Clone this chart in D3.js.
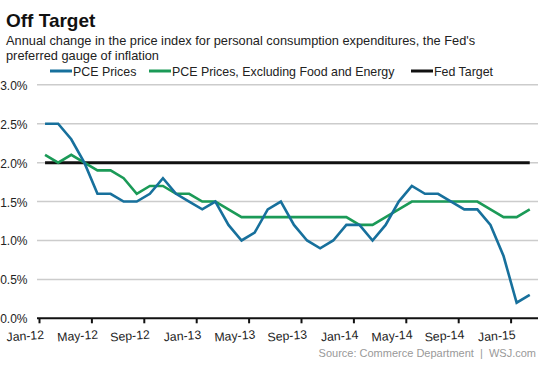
<!DOCTYPE html>
<html>
<head>
<meta charset="utf-8">
<script src="https://cdn.jsdelivr.net/npm/d3@7"></script>
<style>
  body { margin: 0; background: #fff; }
  svg text { font-family: "Liberation Sans", Arial, sans-serif; }
</style>
</head>
<body>
<div id="chart"></div>
<script>
// Data: monthly, Jan 2012 - Feb 2015 (annual % change)
const months = d3.timeMonths(new Date(2012, 0, 1), new Date(2015, 2, 1));
const pcePrices = [2.5, 2.5, 2.3, 2.0, 1.6, 1.6, 1.5, 1.5, 1.6, 1.8, 1.6, 1.5,
                   1.4, 1.5, 1.2, 1.0, 1.1, 1.4, 1.5, 1.2, 1.0, 0.9, 1.0, 1.2,
                   1.2, 1.0, 1.2, 1.5, 1.7, 1.6, 1.6, 1.5, 1.4, 1.4, 1.2, 0.8,
                   0.2, 0.3];
const pceCore = [2.1, 2.0, 2.1, 2.0, 1.9, 1.9, 1.8, 1.6, 1.7, 1.7, 1.6, 1.6,
                 1.5, 1.5, 1.4, 1.3, 1.3, 1.3, 1.3, 1.3, 1.3, 1.3, 1.3, 1.3,
                 1.2, 1.2, 1.3, 1.4, 1.5, 1.5, 1.5, 1.5, 1.5, 1.5, 1.4, 1.3,
                 1.3, 1.4];
const fedTarget = 2.0;
const yTicks = [0, 0.5, 1.0, 1.5, 2.0, 2.5, 3.0];
const seriesNames = ["PCE Prices", "PCE Prices, Excluding Food and Energy", "Fed Target"];
const colors = ["#17709c", "#1b9a57", "#111111"];

const width = 553, height = 369;

const svg = d3.select("#chart")
    .append("svg")
    .attr("width", width)
    .attr("height", height);

// Title and subtitle
svg.append("text")
    .attr("x", 6).attr("y", 27)
    .style("font-size", "19px").style("font-weight", "bold")
    .attr("fill", "#111")
    .text("Off Target");

svg.append("text")
    .attr("x", 6).attr("y", 45)
    .style("font-size", "12.8px").attr("fill", "#222")
    .text("Annual change in the price index for personal consumption expenditures, the Fed's");
svg.append("text")
    .attr("x", 6).attr("y", 60)
    .style("font-size", "12.8px").attr("fill", "#222")
    .text("preferred gauge of inflation");

// Scales
const x = d3.scaleBand()
    .domain(months)
    .range([38.5, 536.3]);
const xc = d => x(d) + x.bandwidth() / 2;

const y = d3.scaleLinear()
    .domain([0, 3])
    .range([318.3, 84.8]);

// Gridlines
svg.append("g")
    .selectAll("line")
    .data(yTicks.filter(d => d > 0))
    .enter()
    .append("line")
    .attr("x1", 37).attr("x2", 538)
    .attr("y1", d => y(d)).attr("y2", d => y(d))
    .attr("stroke", "#cccccc")
    .attr("stroke-width", 1.5);

// Y labels
svg.append("g")
    .selectAll("text")
    .data(yTicks)
    .enter()
    .append("text")
    .attr("x", 27.5)
    .attr("y", d => y(d) + 5)
    .attr("text-anchor", "end")
    .style("font-size", "12px")
    .attr("fill", "#222")
    .text(d => d3.format(".1f")(d) + "%");

// X axis line and ticks
svg.append("line")
    .attr("x1", 37).attr("x2", 538)
    .attr("y1", y(0)).attr("y2", y(0))
    .attr("stroke", "#111").attr("stroke-width", 2);

const tickMonths = months.filter((d, i) => i % 4 === 0);

svg.append("g")
    .selectAll("line")
    .data(tickMonths)
    .enter()
    .append("line")
    .attr("x1", d => x(d) + 1).attr("x2", d => x(d) + 1)
    .attr("y1", y(0)).attr("y2", y(0) + 5)
    .attr("stroke", "#111").attr("stroke-width", 2);

svg.append("g")
    .selectAll("text")
    .data(tickMonths)
    .enter()
    .append("text")
    .attr("transform", d => `translate(${x(d) - 13},340) rotate(-4)`)
    .attr("text-anchor", "middle")
    .style("font-size", "12.3px")
    .attr("fill", "#222")
    .text(d => d3.timeFormat("%b-%y")(d));

// Lines
const line = d3.line()
    .x(d => xc(d.date))
    .y(d => y(d.value));

const pceData = months.map((m, i) => ({date: m, value: pcePrices[i]}));
const coreData = months.map((m, i) => ({date: m, value: pceCore[i]}));
const targetData = months.map(m => ({date: m, value: fedTarget}));

svg.append("path")
    .datum(targetData)
    .attr("d", line)
    .attr("fill", "none")
    .attr("stroke", colors[2])
    .attr("stroke-width", 3);

svg.append("path")
    .datum(coreData)
    .attr("d", line)
    .attr("fill", "none")
    .attr("stroke", colors[1])
    .attr("stroke-width", 2.6);

svg.append("path")
    .datum(pceData)
    .attr("d", line)
    .attr("fill", "none")
    .attr("stroke", colors[0])
    .attr("stroke-width", 2.6);

// Legend
const legendX = [50, 149, 411];
const legend = svg.append("g");
seriesNames.forEach((name, i) => {
    legend.append("line")
        .attr("x1", legendX[i]).attr("x2", legendX[i] + 22)
        .attr("y1", 71).attr("y2", 71)
        .attr("stroke", colors[i]).attr("stroke-width", 3);
    legend.append("text")
        .attr("x", legendX[i] + 23)
        .attr("y", 75.5)
        .style("font-size", "12.4px")
        .attr("fill", "#222")
        .text(name);
});

// Source
svg.append("text")
    .attr("x", 536).attr("y", 357)
    .attr("text-anchor", "end")
    .style("font-size", "11px")
    .attr("fill", "#999")
    .text("Source: Commerce Department  |  WSJ.com")
    .attr("xml:space", "preserve")
    .style("white-space", "pre");
</script>
</body>
</html>
